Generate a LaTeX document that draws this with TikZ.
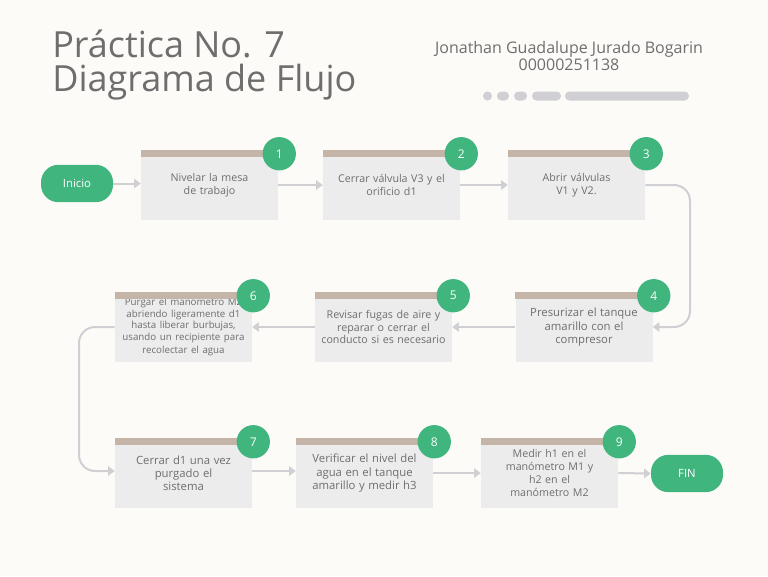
\documentclass[tikz,border=0pt]{standalone}
\usepackage{fontspec}
\setmainfont{Open Sans}
\usetikzlibrary{arrows.meta}
\definecolor{bg}{HTML}{FDFBF8}
\definecolor{boxc}{HTML}{ECECEC}
\definecolor{band}{HTML}{C5B5A9}
\definecolor{grn}{HTML}{41B57E}
\definecolor{arr}{HTML}{CFCFD4}
\definecolor{txt}{HTML}{6E6E6E}
\begin{document}
\begin{tikzpicture}[x=0.75pt,y=-0.75pt,
 stepbox/.style={fill=boxc,minimum width=102.75pt,minimum height=52.5pt,inner sep=0pt,text width=96pt,align=center,font=\fontsize{8}{9.6}\selectfont,text=txt},
 numc/.style={circle,fill=grn,minimum size=25pt,inner sep=0pt,text=white,font=\fontsize{9}{10}\selectfont},
 pill/.style={rounded corners=13pt,fill=grn,minimum width=54pt,minimum height=28pt,text=white,font=\fontsize{8.5}{10}\selectfont},
 conn/.style={draw=arr,line width=1.5pt,-{Triangle[length=5pt,width=7pt]}}]
\fill[bg] (0,0) rectangle (768,576);
\useasboundingbox (0,0) rectangle (768,576);
\node[anchor=north west,align=left,text=txt,font=\fontsize{27}{25}\selectfont,inner sep=0pt] (title) at (52,30) {Práctica No. 7\\Diagrama de Flujo};
\node[align=center,text=txt,font=\fontsize{12}{10.5}\selectfont,inner sep=0pt] (author) at (569,56) {Jonathan Guadalupe Jurado Bogarin\\00000251138};
\foreach \a/\b in {483/492,497/509,514/527,532/561,565/689}
  \fill[arr] (\a,91.5) [rounded corners=3.3pt] rectangle (\b,100.5);
\newcommand{\stp}[5]{%
 \node[stepbox] (#1) at (#2,#3) {#5};
 \fill[band] (#1.north west) rectangle ([yshift=-5.25pt]#1.north east);
 \node[numc] (n#1) at ([xshift=0.75pt,yshift=-3pt]#1.north east) {#4};}
\stp{s1}{209.5}{185}{1}{Nivelar la mesa\\de trabajo}
\stp{s2}{391.5}{185}{2}{Cerrar válvula V3 y el\\orificio d1}
\stp{s3}{576.5}{185}{3}{Abrir válvulas\\V1 y V2.}
\stp{s4}{584}{327}{4}{\fontsize{8.5}{10}\selectfont Presurizar el tanque\\amarillo con el\\compresor}
\stp{s5}{383.5}{327}{5}{Revisar fugas de aire y\\reparar o cerrar el\\conducto si es necesario}
\stp{s6}{183.5}{327}{6}{\fontsize{7.3}{8.6}\selectfont Purgar el manómetro M2\\abriendo ligeramente d1\\hasta liberar burbujas,\\usando un recipiente para\\recolectar el agua}
\stp{s7}{183.5}{473}{7}{\fontsize{8.5}{10}\selectfont Cerrar d1 una vez\\purgado el\\sistema}
\stp{s8}{364.5}{473}{8}{\fontsize{8.5}{10}\selectfont Verificar el nivel del\\agua en el tanque\\amarillo y medir h3}
\stp{s9}{549.5}{473}{9}{Medir h1 en el\\manómetro M1 y\\h2 en el\\manómetro M2}
\node[pill] (ini) at (77,183.5) {Inicio};
\node[pill] (fin) at (687,473.5) {FIN};
\draw[conn] (ini.east) -- (s1.west |- ini.east);
\draw[conn] (s1.east) -- (s2.west);
\draw[conn] (s2.east) -- (s3.west);
\draw[conn,rounded corners=12pt] (s3.east) -- (690,185) -- (690,327) -- (s4.east);
\draw[conn] (s4.west) -- (s5.east);
\draw[conn] (s5.west) -- (s6.east);
\draw[conn,rounded corners=12pt] (s6.west) -- (79,327) -- (79,471) -- (s7.west |- 0,471);
\draw[conn] (s7.east |- 0,471) -- (s8.west |- 0,471);
\draw[conn] (s8.east) -- (s9.west);
\draw[conn] (s9.east) -- (fin.west);
\end{tikzpicture}
\end{document}
